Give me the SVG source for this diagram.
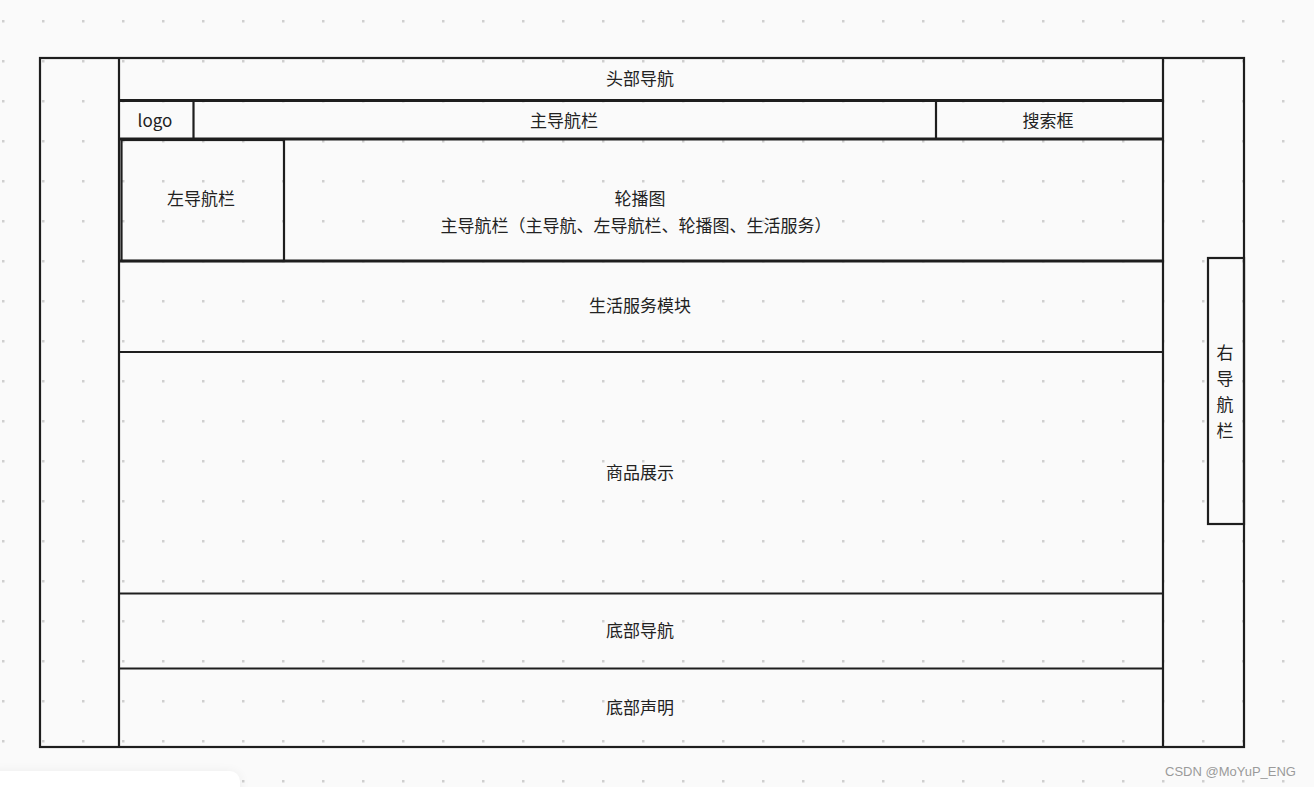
<svg xmlns="http://www.w3.org/2000/svg" width="1314" height="787" viewBox="0 0 1314 787">
<defs>
<pattern id="dots" x="0" y="0" width="40" height="40" patternUnits="userSpaceOnUse">
<rect x="2" y="20" width="2.5" height="2.5" fill="#cfcfcf"/>
</pattern>
<filter id="sh" x="-20%" y="-100%" width="140%" height="300%">
<feGaussianBlur stdDeviation="6"/>
</filter>
<style>
.ln{stroke:#1e1e1e;stroke-width:2.2;fill:none}
.tk{stroke:#1e1e1e;stroke-width:3;fill:none}
.t{font-family:"Noto Sans CJK SC","Noto Sans",sans-serif;font-size:17px;fill:#222;text-anchor:middle;dominant-baseline:central}
</style>
</defs>
<rect width="1314" height="787" fill="#fafafa"/>
<rect width="1314" height="787" fill="url(#dots)"/>
<g id="connectors">
<line class="ln" x1="119" y1="58" x2="119" y2="747"/>
<line class="ln" x1="1163" y1="58" x2="1163" y2="747"/>
<line class="ln" x1="119" y1="352" x2="1163" y2="352"/>
<line class="ln" x1="119" y1="593.5" x2="1163" y2="593.5"/>
<line class="ln" x1="119" y1="668.5" x2="1163" y2="668.5"/>
</g>
<g id="outer"><rect class="ln" x="40" y="58" width="1204" height="689"/></g>
<g id="header"><line class="tk" x1="119" y1="100.5" x2="1163" y2="100.5"/><text class="t" x="640" y="77.5">头部导航</text></g>
<g id="mainnav">
<line class="tk" x1="119" y1="139" x2="1163" y2="139"/>
<line class="ln" x1="193.5" y1="101" x2="193.5" y2="139"/>
<line class="ln" x1="936" y1="101" x2="936" y2="139"/>
<text class="t" x="564" y="119.5">主导航栏</text>
</g>
<g id="logo"><text class="t" x="155" y="119.5">logo</text></g>
<g id="search"><text class="t" x="1048" y="119.5">搜索框</text></g>
<g id="leftnav"><rect class="ln" x="121.5" y="140" width="162.5" height="121"/><text class="t" x="201" y="197.5">左导航栏</text></g>
<g id="banner"><line class="tk" x1="119" y1="261" x2="1163" y2="261"/><text class="t" x="640" y="197.5">轮播图</text><text class="t" x="636" y="224.5">主导航栏（主导航、左导航栏、轮播图、生活服务）</text></g>
<g id="service"><text class="t" x="640" y="304.5">生活服务模块</text></g>
<g id="goods"><text class="t" x="640" y="471.5">商品展示</text></g>
<g id="footnav"><text class="t" x="640" y="629.5">底部导航</text></g>
<g id="footstatement"><text class="t" x="640" y="706.5">底部声明</text></g>
<g id="rightnav"><rect class="ln" x="1208" y="258" width="36" height="266"/>
<text class="t" x="1225" y="351.5">右</text><text class="t" x="1225" y="377.5">导</text><text class="t" x="1225" y="403.5">航</text><text class="t" x="1225" y="429.5">栏</text></g>
<g id="panel">
<path d="M-10 772 H230 A10 10 0 0 1 240 782 V800 H-10 Z" fill="#000" opacity="0.06" filter="url(#sh)"/>
<path d="M0 771 H230 A10 10 0 0 1 240 781 V787 H0 Z" fill="#ffffff"/>
</g>
<text x="1165" y="776" font-family="Liberation Sans, Arial, sans-serif" font-size="13" fill="#9a9a9a">CSDN @MoYuP_ENG</text>
</svg>
